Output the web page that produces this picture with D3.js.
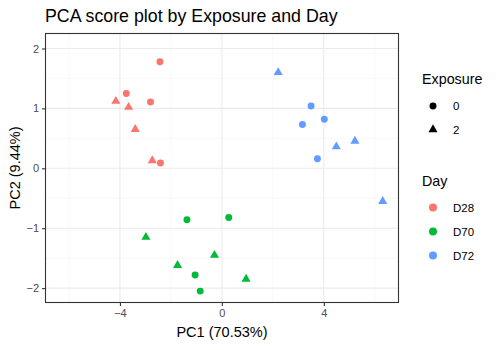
<!DOCTYPE html>
<html>
<head>
<meta charset="utf-8">
<script src="https://cdn.jsdelivr.net/npm/d3@7"></script>
<style>
  body { margin: 0; background: #fff; }
  svg { font-family: "Liberation Sans", Arial, sans-serif; }
</style>
</head>
<body>
<div id="chart"></div>
<script>
// PCA scores
const days = ["D28", "D70", "D72"];
const exposures = ["0", "2"];
const pc1 = [-2.43, -3.75, -2.80, -2.41, -4.16, -3.66, -3.40, -2.73,
             -1.37, 0.27, -1.05, -0.85, -2.98, -0.29, -1.74, 0.95,
             3.50, 3.16, 4.02, 3.75, 2.21, 4.49, 5.22, 6.31];
const pc2 = [1.78, 1.25, 1.105, 0.09, 1.12, 1.02, 0.65, 0.13,
             -0.86, -0.82, -1.78, -2.05, -1.15, -1.45, -1.62, -1.85,
             1.04, 0.73, 0.82, 0.16, 1.60, 0.36, 0.455, -0.55];
const pointDay = ["D28","D28","D28","D28","D28","D28","D28","D28",
                  "D70","D70","D70","D70","D70","D70","D70","D70",
                  "D72","D72","D72","D72","D72","D72","D72","D72"];
const pointExposure = ["0","0","0","0","2","2","2","2",
                       "0","0","0","0","2","2","2","2",
                       "0","0","0","0","2","2","2","2"];
const xTicks = [-4, 0, 4];
const yTicks = [-2, -1, 0, 1, 2];

const points = pc1.map((v, i) => ({ x: v, y: pc2[i], day: pointDay[i], exp: pointExposure[i] }));

const W = 500, H = 350;
const panel = { left: 45.5, right: 398.5, top: 33.5, bottom: 302.5 };

const svg = d3.select("#chart").append("svg")
    .attr("width", W).attr("height", H);

const x = d3.scaleLinear().domain([-6.92, 6.93]).range([panel.left, panel.right]);
const y = d3.scaleLinear().domain([-2.24, 2.25]).range([panel.bottom, panel.top]);

const color = d3.scaleOrdinal().domain(days).range(["#F8766D", "#00BA38", "#619CFF"]);
const shape = d3.scaleOrdinal().domain(exposures)
    .range([d3.symbol(d3.symbolCircle, 38)(), d3.symbol(d3.symbolTriangle, 36)()]);

// panel background and grid
svg.append("rect")
    .attr("x", panel.left).attr("y", panel.top)
    .attr("width", panel.right - panel.left).attr("height", panel.bottom - panel.top)
    .attr("fill", "#fff");

const grid = svg.append("g");
const xMinor = [-6, -2, 2, 6];
const yMinor = [-1.5, -0.5, 0.5, 1.5];
grid.selectAll(".xm").data(xMinor).join("line")
    .attr("x1", d => x(d)).attr("x2", d => x(d))
    .attr("y1", panel.top).attr("y2", panel.bottom)
    .attr("stroke", "#F4F4F4").attr("stroke-width", 0.6);
grid.selectAll(".ym").data(yMinor).join("line")
    .attr("y1", d => y(d)).attr("y2", d => y(d))
    .attr("x1", panel.left).attr("x2", panel.right)
    .attr("stroke", "#F4F4F4").attr("stroke-width", 0.6);
grid.selectAll(".xM").data(xTicks).join("line")
    .attr("x1", d => x(d)).attr("x2", d => x(d))
    .attr("y1", panel.top).attr("y2", panel.bottom)
    .attr("stroke", "#EBEBEB").attr("stroke-width", 1.1);
grid.selectAll(".yM").data(yTicks).join("line")
    .attr("y1", d => y(d)).attr("y2", d => y(d))
    .attr("x1", panel.left).attr("x2", panel.right)
    .attr("stroke", "#EBEBEB").attr("stroke-width", 1.1);

// points
svg.append("g").selectAll("path").data(points).join("path")
    .attr("transform", d => `translate(${x(d.x)},${y(d.y)})`)
    .attr("d", d => shape(d.exp))
    .attr("fill", d => color(d.day));

// border
svg.append("rect")
    .attr("x", panel.left).attr("y", panel.top)
    .attr("width", panel.right - panel.left).attr("height", panel.bottom - panel.top)
    .attr("fill", "none").attr("stroke", "#333").attr("stroke-width", 1.1);

// axes
const xAxis = svg.append("g")
    .attr("transform", `translate(0,${panel.bottom})`)
    .call(d3.axisBottom(x).tickValues(xTicks).tickFormat(d3.format("d")).tickSize(3.5).tickPadding(3));
const yAxis = svg.append("g")
    .attr("transform", `translate(${panel.left},0)`)
    .call(d3.axisLeft(y).tickValues(yTicks).tickFormat(d3.format("d")).tickSize(3.5).tickPadding(3));
[xAxis, yAxis].forEach(a => {
    a.select(".domain").remove();
    a.selectAll("line").attr("stroke", "#333").attr("stroke-width", 1.1);
    a.selectAll("text").attr("fill", "#4D4D4D").attr("font-size", 11)
        .attr("font-family", "Liberation Sans, Arial, sans-serif");
});

// titles
svg.append("text").attr("x", 45).attr("y", 22)
    .attr("font-size", 17.8).attr("fill", "#000")
    .text("PCA score plot by Exposure and Day");
svg.append("text").attr("x", (panel.left + panel.right) / 2).attr("y", 337)
    .attr("text-anchor", "middle").attr("font-size", 14.5)
    .text("PC1 (70.53%)");
svg.append("text")
    .attr("transform", `translate(20,${(panel.top + panel.bottom) / 2}) rotate(-90)`)
    .attr("text-anchor", "middle").attr("font-size", 14.5)
    .text("PC2 (9.44%)");

// legends
const leg = svg.append("g");
leg.append("text").attr("x", 422).attr("y", 84).attr("font-size", 14.3).text("Exposure");
leg.selectAll(".ek").data(exposures).join("path")
    .attr("transform", (d, i) => `translate(433,${106 + i * 23.5})`)
    .attr("d", d => shape(d)).attr("fill", "#000");
leg.selectAll(".el").data(exposures).join("text")
    .attr("x", 453).attr("y", (d, i) => 106 + i * 23.5).attr("dy", "0.35em")
    .attr("font-size", 11.5).text(d => d);

leg.append("text").attr("x", 422).attr("y", 186).attr("font-size", 14.3).text("Day");
leg.selectAll(".dk").data(days).join("circle")
    .attr("cx", 433).attr("cy", (d, i) => 207.5 + i * 24)
    .attr("r", 4).attr("fill", d => color(d));
leg.selectAll(".dl").data(days).join("text")
    .attr("x", 453).attr("y", (d, i) => 207.5 + i * 24).attr("dy", "0.35em")
    .attr("font-size", 11.5).text(d => d);
</script>
</body>
</html>
